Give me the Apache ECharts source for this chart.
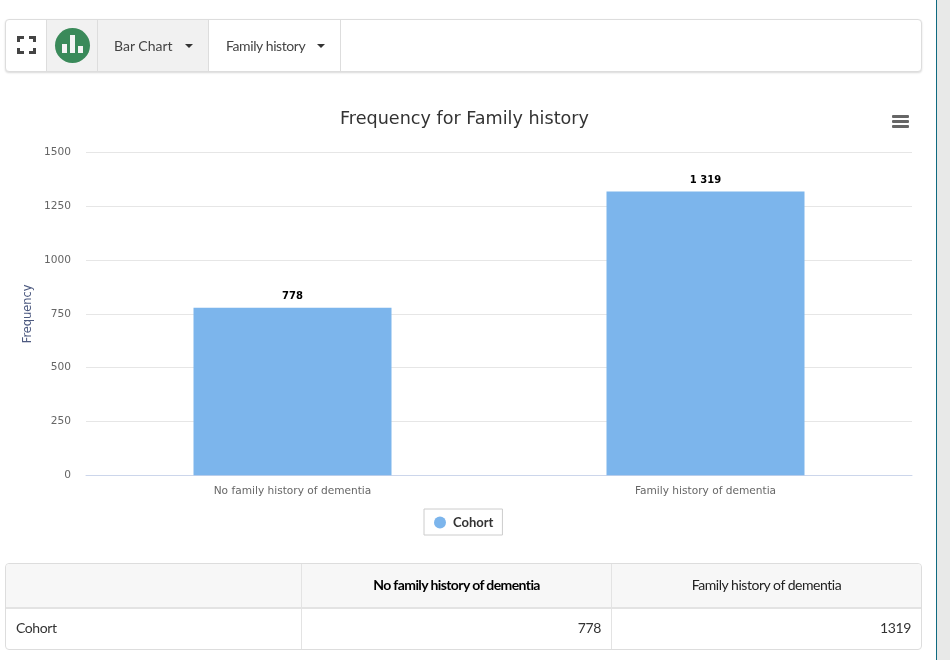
<!DOCTYPE html>
<html><head><meta charset="utf-8">
<style>
html,body{margin:0;padding:0;width:950px;height:660px;overflow:hidden;background:#fff;font-family:Lato,sans-serif;color:#333}
#chart{position:absolute;left:0;top:0;width:950px;height:660px}
.side{position:absolute;left:936px;top:0;width:14px;height:660px;background:#e8e9e8;border-left:1px solid #0f6a80;box-sizing:border-box}
.bar{position:absolute;left:5px;top:19px;width:917px;height:53px;box-sizing:border-box;border:1px solid #ddd;border-radius:4px;box-shadow:0 1px 2px rgba(0,0,0,.15);background:#fff}
.cell{position:absolute;top:0;height:51px;box-sizing:border-box;border-right:1px solid #ddd;font-size:14px;line-height:51px;color:#444}
.caret{position:absolute;top:24px;width:0;height:0;border-left:4px solid transparent;border-right:4px solid transparent;border-top:4px solid #333}
.circle{position:absolute;left:8px;top:8px;width:35px;height:35px;border-radius:50%;background:#3a8a5a}
.circle i{position:absolute;bottom:10px;width:5px;background:#f4f4f4}
.fs{position:absolute;left:11px;top:16px;width:19px;height:18px}
.fs i{position:absolute;width:7px;height:6px;box-sizing:border-box;border:0 solid #444}
.menu{position:absolute;left:892px;top:115px;width:17px}
.menu i{display:block;height:3px;background:#666;margin-bottom:2px;border-radius:1px}
table{position:absolute;left:5px;top:563px;width:917px;height:87px;border-collapse:separate;border-spacing:0;border:1px solid #ddd;border-radius:4px;font-size:14px;table-layout:fixed;color:#333}
th{background:#f7f7f7;height:39px;border-bottom:2px solid #e3e3e3;border-left:1px solid #e3e3e3;padding:0 0 3px 0;font-weight:700;color:#000;letter-spacing:-.6px}
th:first-child,td:first-child{border-left:0}
th:first-child{border-top-left-radius:4px}
th:last-child{border-top-right-radius:4px;font-weight:400;color:#222;letter-spacing:-.46px}
td{border-left:1px solid #e3e3e3;padding:0 10px 3px 10px;height:36px;text-align:right;letter-spacing:-.4px}
td:first-child{text-align:left}
</style>
<script src="https://cdn.jsdelivr.net/npm/echarts@6/dist/echarts.min.js"></script>
</head><body>
<div id="chart"></div>
<div class="side"></div>
<div class="bar">
  <div class="cell" style="left:0;width:41px"><div class="fs">
    <i style="left:0;top:0;border-left-width:3px;border-top-width:3px"></i>
    <i style="right:0;top:0;border-right-width:3px;border-top-width:3px"></i>
    <i style="left:0;bottom:0;border-left-width:3px;border-bottom-width:3px"></i>
    <i style="right:0;bottom:0;border-right-width:3px;border-bottom-width:3px"></i></div></div>
  <div class="cell" style="left:41px;width:51px;background:#f1f1f1"><div class="circle">
    <i style="left:7px;height:9px"></i><i style="left:15px;height:18px"></i><i style="left:23px;height:7px"></i></div></div>
  <div class="cell" style="left:92px;width:111px;background:#f1f1f1;padding-left:16px">Bar Chart<span class="caret" style="left:87px"></span></div>
  <div class="cell" style="left:203px;width:132px;padding-left:17px;letter-spacing:-.4px">Family history<span class="caret" style="left:108px"></span></div>
</div>
<div class="menu"><i></i><i></i><i></i></div>
<table>
  <colgroup><col style="width:295px"><col style="width:310px"><col></colgroup>
  <tr><th></th><th id="h0"></th><th id="h1"></th></tr>
  <tr><td id="s"></td><td id="v0"></td><td id="v1"></td></tr>
</table>
<script>
const categories = ["No family history of dementia", "Family history of dementia"];
const seriesName = "Cohort";
const values = [778, 1319];
const yTicks = [0, 250, 500, 750, 1000, 1250, 1500];
const titleText = "Frequency for Family history";
const yAxisName = "Frequency";

document.getElementById('h0').textContent = categories[0];
document.getElementById('h1').textContent = categories[1];
document.getElementById('s').textContent = seriesName;
document.getElementById('v0').textContent = values[0];
document.getElementById('v1').textContent = values[1];

const font = '"DejaVu Sans", sans-serif';
const chart = echarts.init(document.getElementById('chart'), null, {renderer:'canvas'});
chart.setOption({
  animation:false,
  title:{text:titleText,left:340,top:109,padding:0,
    textStyle:{fontFamily:font,fontSize:17.6,fontWeight:400,color:'#333',lineHeight:20}},
  grid:{left:86,right:38,top:152.5,bottom:184.7},
  legend:{data:[seriesName],left:424,top:509,padding:[7,9,6,10],itemWidth:12,itemHeight:12,itemGap:6,
    icon:'circle',borderColor:'#ccc',borderWidth:1,
    textStyle:{fontFamily:'Lato,sans-serif',fontSize:13,fontWeight:700,color:'#333',padding:[0,0,0,2]}},
  xAxis:{type:'category',data:categories,
    axisTick:{show:false},
    axisLine:{lineStyle:{color:'#ccd6eb',width:1}},
    axisLabel:{fontFamily:font,fontSize:10.6,color:'#666',margin:10}},
  yAxis:{type:'value',min:yTicks[0],max:yTicks[yTicks.length-1],interval:yTicks[1]-yTicks[0],
    name:yAxisName,nameLocation:'middle',nameGap:52,nameRotate:90,
    nameTextStyle:{fontFamily:font,fontSize:11.4,color:'#4d5a80'},
    axisLine:{show:false},axisTick:{show:false},
    splitLine:{lineStyle:{color:'#e6e6e6',width:1}},
    axisLabel:{fontFamily:font,fontSize:10.6,color:'#666',margin:15,verticalAlign:'middle',padding:[4,0,0,0],formatter:v=>String(v)}},
  series:[{name:seriesName,type:'bar',data:values,barWidth:198,
    itemStyle:{color:'#7cb5ec'},
    label:{show:true,position:'top',distance:6,fontFamily:font,fontSize:10,fontWeight:700,color:'#000',
      formatter:p=>String(p.value).replace(/\B(?=(\d{3})+$)/g,' ')}}]
});
</script>
</body></html>
